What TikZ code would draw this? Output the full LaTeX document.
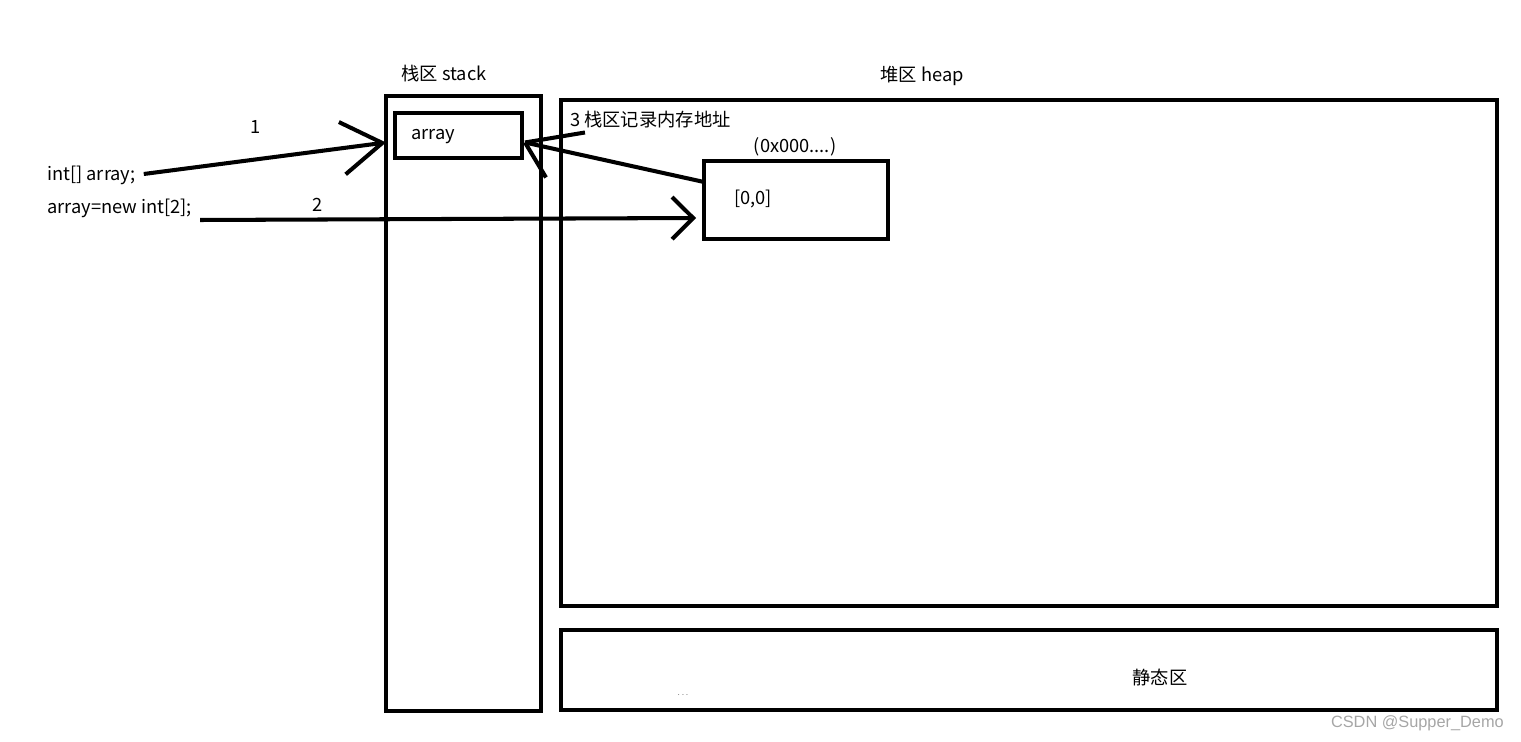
\documentclass[tikz,border=0pt]{standalone}
\usepackage{fontspec}
\setmainfont{Noto Sans CJK SC}
\newfontfamily\wmfont{Liberation Sans}
\usetikzlibrary{arrows.meta,calc}

\tikzset{
    box/.style={draw,line width=2.4pt,inner sep=0pt,outer sep=0pt},
    ptr/.style={line width=2.3pt},
}

\begin{document}
\begin{tikzpicture}[x=0.02cm,y=-0.02cm,font=\fontsize{10.4}{12}\selectfont]
    \useasboundingbox (0,0) rectangle (1521,742);
        \node[box,minimum width=3.1cm,minimum height=12.3cm] (stack) at (463.5,403.5) {};
        \node[box,minimum width=2.54cm,minimum height=0.9cm] (arraybox) at (458.5,135.5) {};
        \node[box,minimum width=18.72cm,minimum height=10.12cm] (heap) at (1029,353) {};
        \node[box,minimum width=18.72cm,minimum height=1.6cm] (static) at (1029,670) {};
        \node[box,minimum width=3.68cm,minimum height=1.56cm] (objbox) at (796,200) {};
        \node (stacklbl) at (444,74) {栈区 stack};
        \node (heaplbl) at (922,76) {堆区 heap};
        \node (staticlbl) at (1160,678) {静态区};
        \node[right] (arraytxt) at (405,137) {array};
        \node[right] (vals) at (728,199) {[0,0]};
        \node (addr) at (795,147) {(0x000....)};
        \node[right] (note) at (564,120) {3 栈区记录内存地址};
        \node[right] (decl) at (41,175) {int[] array;};
        \node[right] (init) at (41,208) {array=new int[2];};
        \node (one) at (256,127) {1};
        \node (two) at (318,205) {2};
        \node[font=\fontsize{4}{4}\selectfont] (dots) at (683,695) {. . .};
        \node[left,text=black!35,font=\wmfont\fontsize{9.3}{11}\selectfont] (mark) at (1510,723) {CSDN @Supper\_Demo};
        \coordinate (tip1) at ($(stack.west |- arraybox.west)+(0,7)$);
        \coordinate (tip2) at ($(objbox.west)+(-8,18)$);
        \coordinate (tip3) at ($(arraybox.east)+(3,7)$);
        \draw[ptr,-{Straight Barb[length=23pt,width=30pt]}] ($(decl.east)+(2,-1)$) -- (tip1);
        \draw[ptr,-{Straight Barb[length=12pt,width=24pt]}] ($(init.east)+(2,12)$) -- (tip2);
        \draw[ptr] ($(objbox.west)+(0,-18)$) -- (tip3);
        \draw[ptr] (tip3) -- ++(21,35);
        \draw[ptr] (tip3) -- ++(60,-10);
\end{tikzpicture}
\end{document}
